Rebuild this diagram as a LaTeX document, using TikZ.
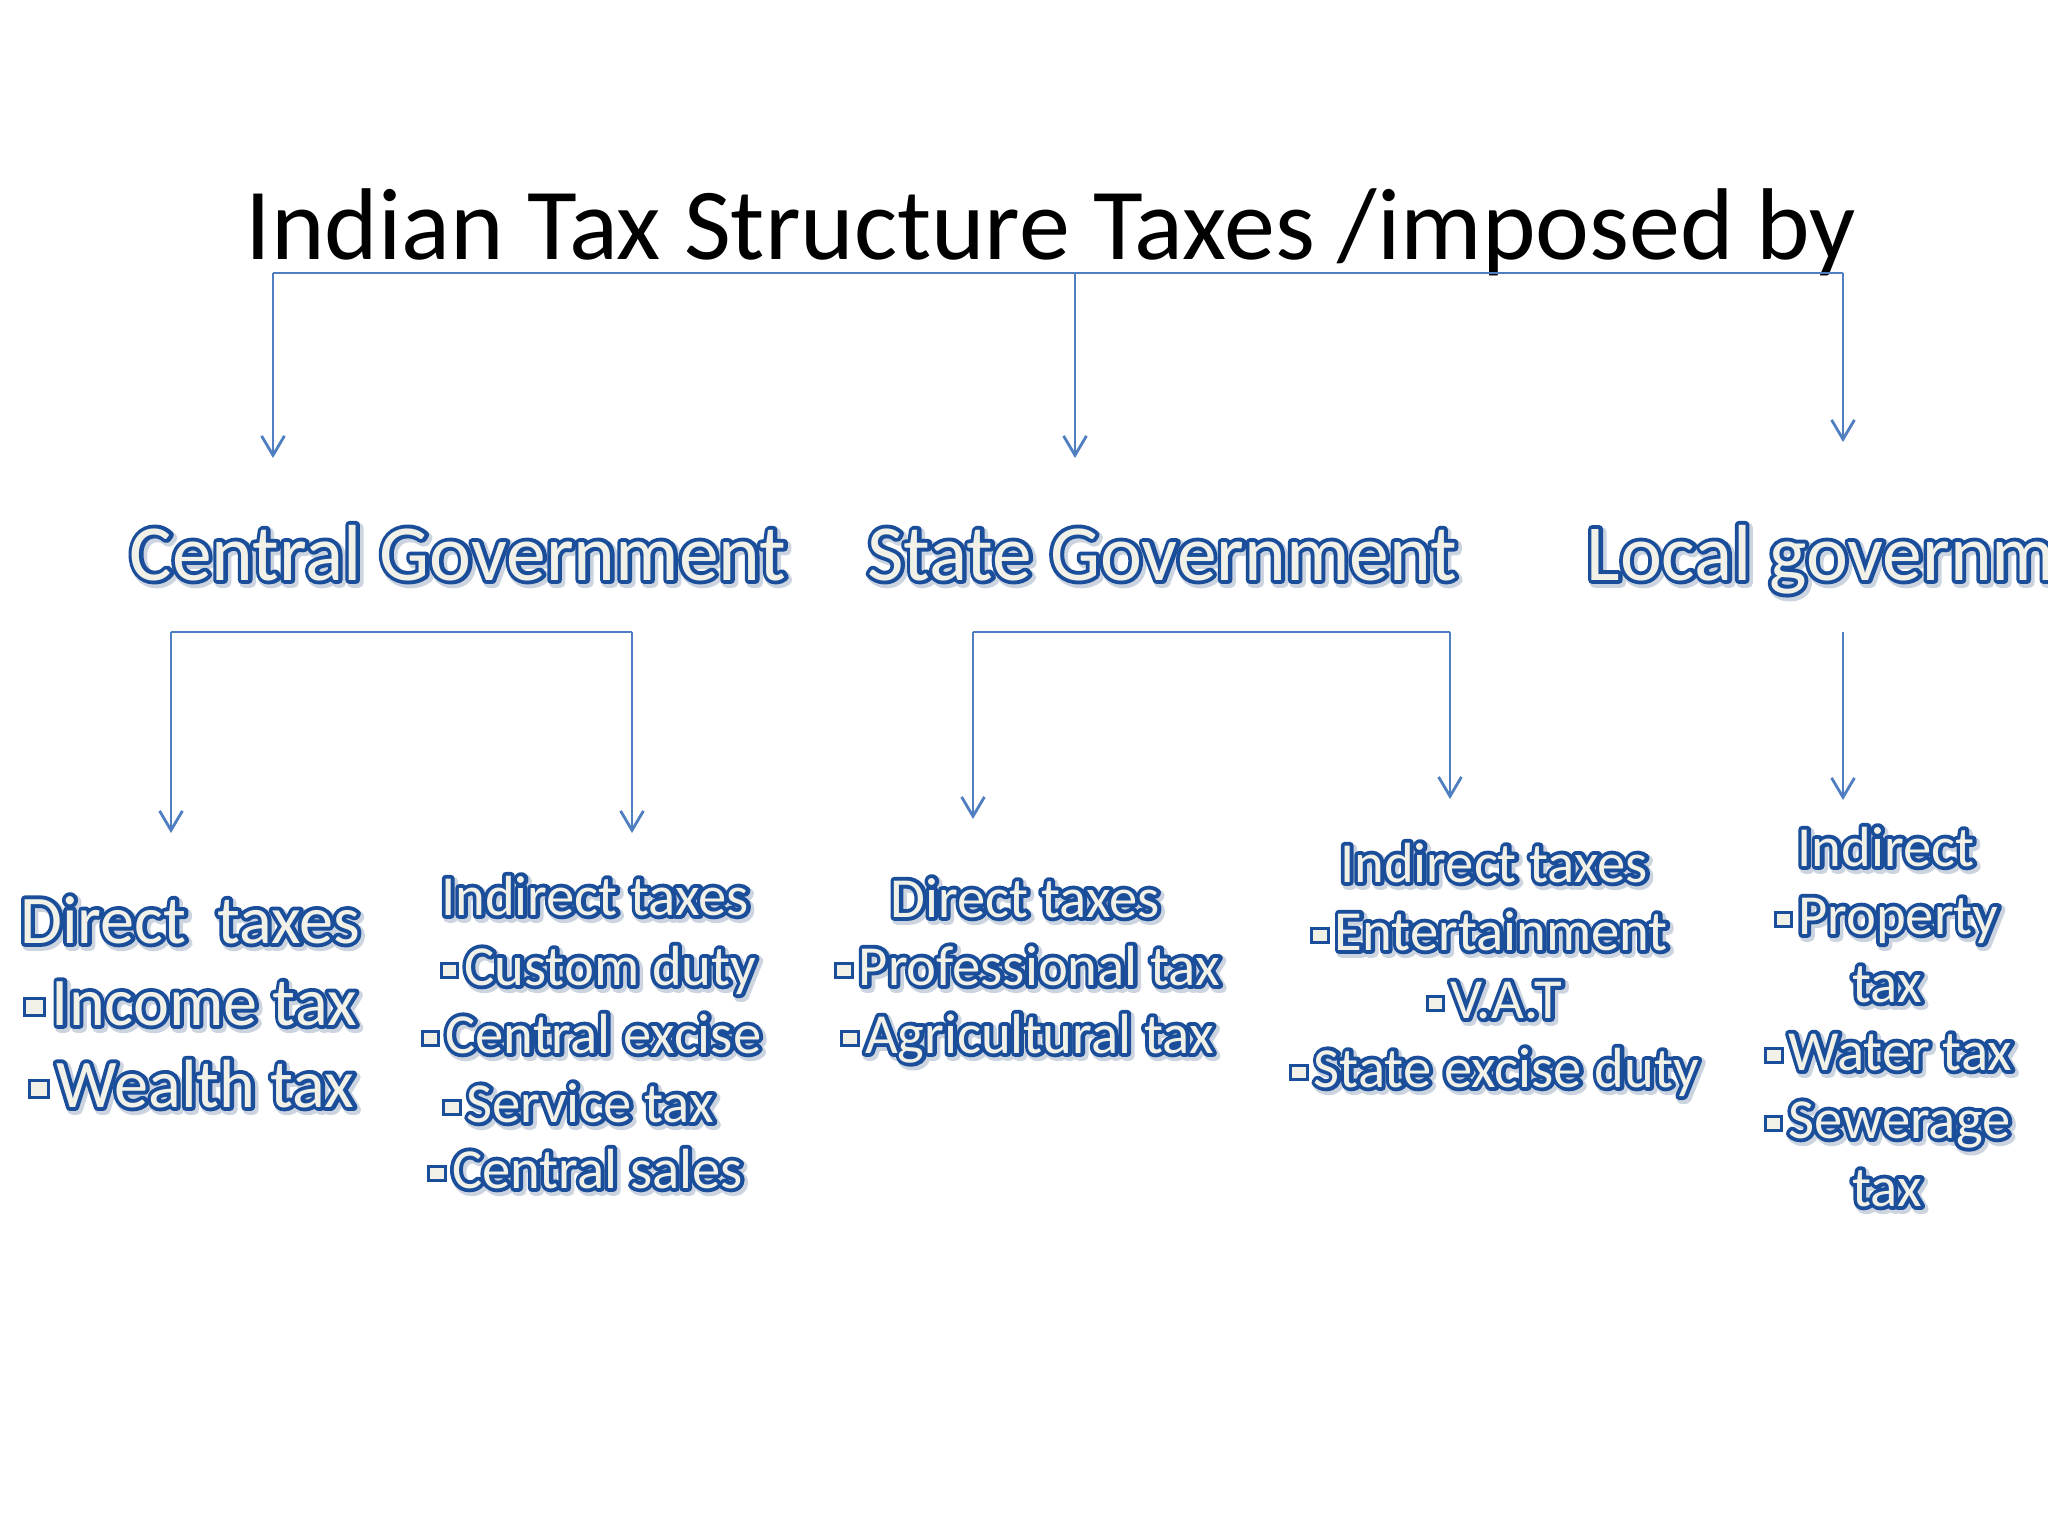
\documentclass[tikz,border=0pt]{standalone}
\usepackage{fontspec}
\setmainfont{Carlito}
\usetikzlibrary{arrows.meta}
\definecolor{outc}{HTML}{1A4E9A}
\definecolor{fillc}{HTML}{F2F1E8}
\definecolor{linec}{HTML}{4F7FC0}
% outlined text: soft shadow, then a stroked copy (dark blue outline), then the cream filled text
\newcommand{\otxt}[1]{\leavevmode
  \rlap{\hspace{0.7pt}\raisebox{-0.8pt}{\special{pdf:literal direct 1 Tr 2.8 w 1 j 0.80 0.83 0.88 RG}#1\special{pdf:literal direct 0 Tr}}}%
  \rlap{\special{pdf:literal direct 1 Tr 2.2 w 1 j 0.102 0.306 0.604 RG}#1\special{pdf:literal direct 0 Tr}}#1}
\setlength{\fboxsep}{0pt}
\newcommand{\bul}{{\setlength{\fboxrule}{0.85pt}\raisebox{0.16em}{\fcolorbox{outc}{fillc}{\rule{0pt}{0.2em}\rule{0.24em}{0pt}}}}\hspace{0.09em}}
\tikzset{
  conn/.style={draw=linec, line width=0.8pt},
  arr/.style={conn, -{Straight Barb[length=5.5pt,width=6.5pt]}},
  ttl/.style={anchor=base, inner sep=0pt, font=\fontsize{29}{34}\selectfont, text=black},
  gov/.style={anchor=base, inner sep=0pt, font=\fontsize{22.6}{27}\selectfont, text=fillc},
  big/.style={anchor=base, inner sep=0pt, font=\fontsize{19.4}{23}\selectfont, text=fillc},
  item/.style={anchor=base, inner sep=0pt, font=\fontsize{16.1}{19}\selectfont, text=fillc},
}
\begin{document}
\begin{tikzpicture}[x=0.01cm, y=-0.01cm]
\useasboundingbox (0,0) rectangle (2048,1536);
\clip (0,0) rectangle (2048,1536);
\fill[white] (0,0) rectangle (2048,1536);

% title
\node[ttl] (title) at (1051,259) {Indian Tax Structure Taxes /imposed by};

% governments
\node[gov] (cg) at (458,580) {\otxt{Central Government}};
\node[gov] (sg) at (1162,580) {\otxt{State Government}};
\node[gov, anchor=base west] (lg) at (1586,580) {\otxt{Local government}};

% central direct
\node[big] (cd1) at (190,943) {\otxt{Direct~~taxes}};
\node[big] (cd2) at (190,1025) {\bul\otxt{Income tax}};
\node[big] (cd3) at (191,1107) {\bul\otxt{Wealth tax}};

% central indirect
\node[item] (ci1) at (595,915) {\otxt{Indirect taxes}};
\node[item] (ci2) at (598,985) {\bul\otxt{Custom duty}};
\node[item] (ci3) at (591,1053) {\bul\otxt{Central excise}};
\node[item] (ci4) at (578,1122) {\bul\otxt{Service tax}};
\node[item] (ci5) at (585,1188) {\bul\otxt{Central sales}};

% state direct
\node[item] (sd1) at (1025,917) {\otxt{Direct taxes}};
\node[item] (sd2) at (1027,985) {\bul\otxt{Professional tax}};
\node[item] (sd3) at (1027,1053) {\bul\otxt{Agricultural tax}};

% state indirect
\node[item] (si1) at (1494,882) {\otxt{Indirect taxes}};
\node[item] (si2) at (1489,950) {\bul\otxt{Entertainment}};
\node[item] (si3) at (1494,1018) {\bul\otxt{V.A.T}};
\node[item] (si4) at (1494,1087) {\bul\otxt{State excise duty}};

% local
\node[item] (li1) at (1886,866) {\otxt{Indirect}};
\node[item] (li2) at (1886,934) {\bul\otxt{Property}};
\node[item] (li3) at (1887,1002) {\otxt{tax}};
\node[item] (li4) at (1888,1070) {\bul\otxt{Water tax}};
\node[item] (li5) at (1887,1138) {\bul\otxt{Sewerage}};
\node[item] (li6) at (1887,1206) {\otxt{tax}};

% connector coordinates
\coordinate (busL) at (273,273);
\coordinate (busM) at (1075,273);
\coordinate (busR) at (1843,273);
\coordinate (tipC) at (273,458);
\coordinate (tipS) at (1075,458);
\coordinate (tipL) at (1843,442);

\coordinate (cbL) at (171,632);
\coordinate (cbR) at (632,632);
\coordinate (cbLt) at (171,833);
\coordinate (cbRt) at (632,833);

\coordinate (sbL) at (973,632);
\coordinate (sbR) at (1450,632);
\coordinate (sbLt) at (973,819);
\coordinate (sbRt) at (1450,799);

\coordinate (lb) at (1843,632);
\coordinate (lbt) at (1843,800);

\draw[conn] (busL) -- (busR);
\draw[arr] (busL) -- (tipC);
\draw[arr] (busM) -- (tipS);
\draw[arr] (busR) -- (tipL);

\draw[conn] (cbL) -- (cbR);
\draw[arr] (cbL) -- (cbLt);
\draw[arr] (cbR) -- (cbRt);

\draw[conn] (sbL) -- (sbR);
\draw[arr] (sbL) -- (sbLt);
\draw[arr] (sbR) -- (sbRt);

\draw[arr] (lb) -- (lbt);
\end{tikzpicture}
\end{document}
